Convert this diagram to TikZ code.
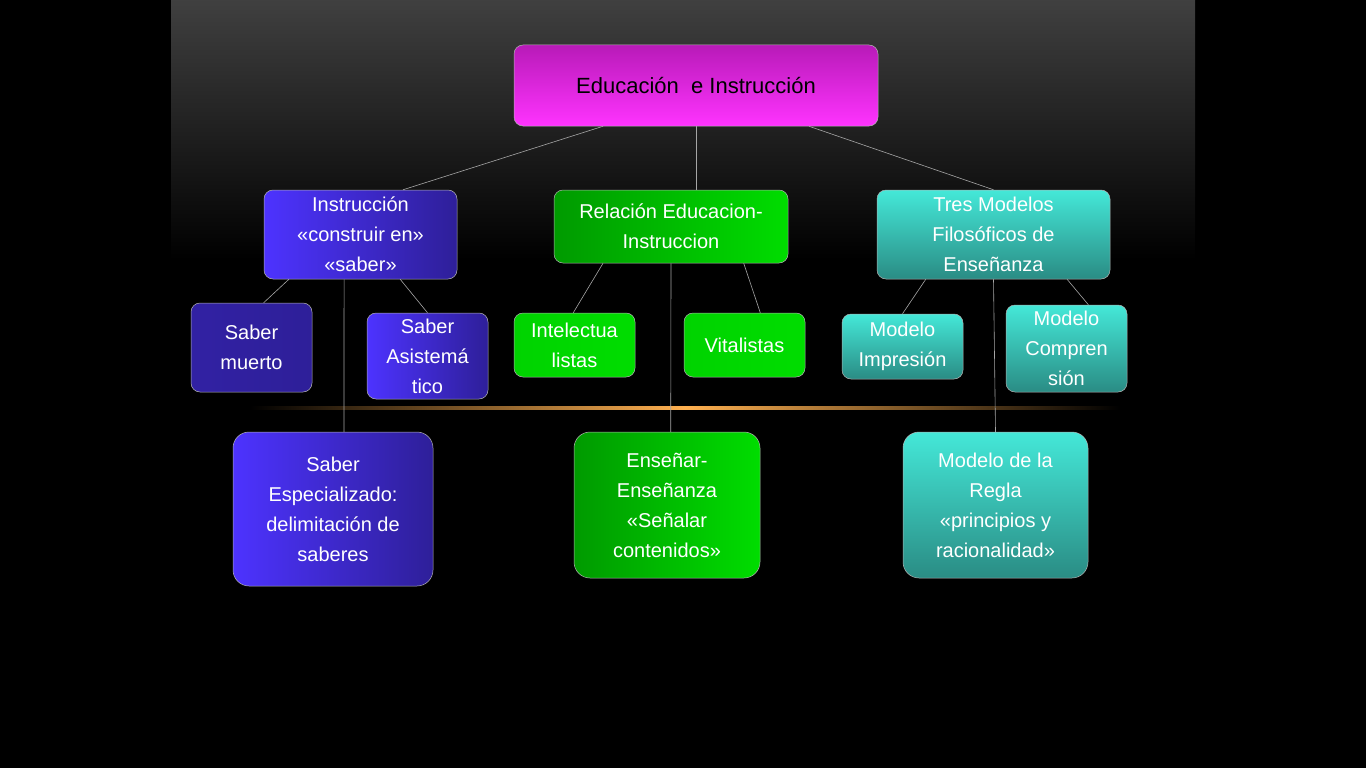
\documentclass[tikz,border=0pt]{standalone}
\usepackage{fontspec}
\setmainfont{Liberation Sans}
\usetikzlibrary{calc}
\definecolor{mag1}{HTML}{B81AB8}\definecolor{mag2}{HTML}{FF33FF}
\definecolor{blu1}{HTML}{4D33FF}\definecolor{blu2}{HTML}{2E1F99}
\definecolor{grn1}{HTML}{009A00}\definecolor{grn2}{HTML}{00DD00}
\definecolor{tea1}{HTML}{44E8D8}\definecolor{tea2}{HTML}{2A8C84}
\definecolor{glow}{HTML}{FFB050}
\begin{document}
\begin{tikzpicture}[x=1pt,y=-1pt,
 box/.style={rounded corners=9pt, draw=gray!60, line width=0.5pt, align=center, text=white,
   font=\fontsize{20}{30}\selectfont, inner sep=2pt},
 bluebox/.style={box, left color=blu1, right color=blu2},
 greenbox/.style={box, left color=grn1, right color=grn2},
 tealbox/.style={box, top color=tea1, bottom color=tea2},
 conn/.style={draw=gray!70, line width=0.6pt}]
\fill[black] (0,0) rectangle (1366,768);
\shade[top color=black!75!white, bottom color=black] (171,0) rectangle (1195,260);
\shade[left color=black, right color=glow] (250,406) rectangle (685,409);
\shade[left color=glow, right color=black] (685,406) rectangle (1120,409);
\node[box, text=black, top color=mag1, bottom color=mag2, minimum width=364pt, minimum height=81pt, font=\fontsize{22}{26}\selectfont] (top) at (696,85.5) {Educación\ \ e Instrucción};
\node[bluebox, minimum width=193pt, minimum height=89pt] (ins) at (360.5,234.5) {Instrucción\\«construir en»\\«saber»};
\node[greenbox, minimum width=234pt, minimum height=73pt] (rel) at (671,226.5) {Relación Educacion-\\Instruccion};
\node[tealbox, minimum width=233pt, minimum height=89pt] (tres) at (993.5,234.5) {Tres Modelos\\Filosóficos de\\Enseñanza};
\node[box, left color=blu2!90!blu1, right color=blu2, minimum width=121pt, minimum height=89pt] (sm) at (251.5,347.5) {Saber\\muerto};
\node[bluebox, minimum width=121pt, minimum height=86pt] (sa) at (427.5,356) {Saber\\Asistemá\\tico};
\node[greenbox, left color=grn2!85!grn1, right color=grn2, minimum width=121pt, minimum height=64pt] (il) at (574.5,345) {Intelectua\\listas};
\node[greenbox, left color=grn2!85!grn1, right color=grn2, minimum width=121pt, minimum height=64pt] (vi) at (744.5,345) {Vitalistas};
\node[tealbox, minimum width=121pt, minimum height=65pt] (mi) at (902.5,346.5) {Modelo\\Impresión};
\node[tealbox, minimum width=121pt, minimum height=87pt] (mc) at (1066.5,348.5) {Modelo\\Compren\\sión};
\node[bluebox, rounded corners=16pt, minimum width=200pt, minimum height=154pt] (se) at (333,509) {Saber\\Especializado:\\delimitación de\\saberes};
\node[greenbox, rounded corners=16pt, minimum width=186pt, minimum height=146pt] (ee) at (667,505) {Enseñar-\\Enseñanza\\«Señalar\\contenidos»};
\node[tealbox, rounded corners=16pt, minimum width=185pt, minimum height=146pt] (mr) at (995.5,505) {Modelo de la\\Regla\\«principios y\\racionalidad»};
\coordinate (relin) at (top.south |- rel.north);
% connectors
\draw[conn] ($(top.south west)!0.245!(top.south east)$) -- ($(ins.north west)!0.72!(ins.north east)$);
\draw[conn] (top.south) -- (relin);
\draw[conn] ($(top.south west)!0.81!(top.south east)$) -- (tres.north);
\draw[conn] ($(ins.south west)!0.13!(ins.south east)$) -- ($(sm.north west)!0.6!(sm.north east)$);
\draw[conn] ($(ins.south west)!0.415!(ins.south east)$) -- ($(se.north west)!0.555!(se.north east)$);
\draw[conn] ($(ins.south west)!0.705!(ins.south east)$) -- (sa.north);
\draw[conn] ($(rel.south west)!0.21!(rel.south east)$) -- ($(il.north west)!0.49!(il.north east)$);
\draw[conn] (rel.south) -- ($(ee.north west)!0.52!(ee.north east)$);
\draw[conn] ($(rel.south west)!0.81!(rel.south east)$) -- ($(vi.north west)!0.63!(vi.north east)$);
\draw[conn] ($(tres.south west)!0.21!(tres.south east)$) -- (mi.north);
\draw[conn] (tres.south) -- (mr.north);
\draw[conn] ($(tres.south west)!0.815!(tres.south east)$) -- ($(mc.north west)!0.68!(mc.north east)$);
\end{tikzpicture}
\end{document}
